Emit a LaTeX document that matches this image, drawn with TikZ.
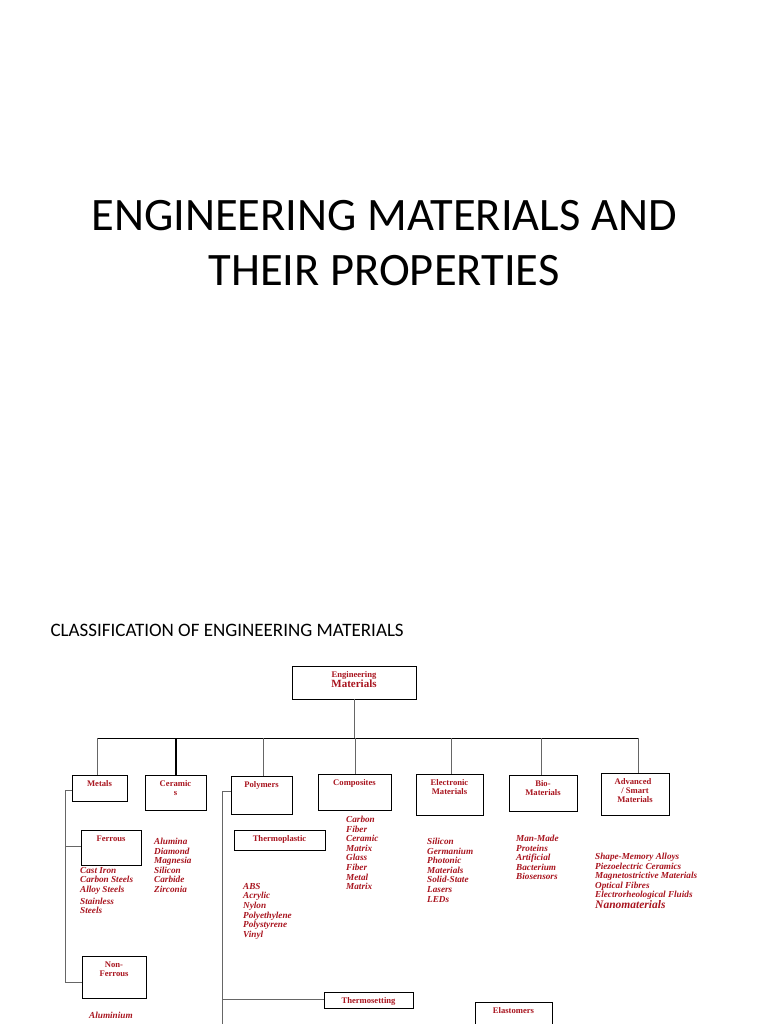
\documentclass[tikz,border=0pt]{standalone}
\usepackage{fontspec}
\setmainfont{Liberation Serif}
\newfontfamily\calfont{Carlito}
\definecolor{rd}{HTML}{A8141E}
\newcommand\bxx[6]{\draw[line width=0.8pt] (#2,#3) rectangle (#4,#5); \node[lbl,anchor=north] (#1) at ({(#2+#4)/2},#3+2) {#6};}
\begin{document}
\begin{tikzpicture}[x=1pt,y=-1pt,
 lbl/.style={text=rd,font=\bfseries\fontsize{8.6}{9}\selectfont,align=center},
 lst/.style={text=rd,font=\bfseries\itshape\fontsize{9.2}{9.6}\selectfont,align=left,anchor=north west,inner sep=0pt},
 ln/.style={draw=gray!80!black,line width=0.8pt}]
\useasboundingbox (0,0) rectangle (768,1024);
\clip (0,0) rectangle (768,1024);
\node[font=\calfont\fontsize{46.5}{48}\selectfont] (t1) at (384,216) {ENGINEERING MATERIALS AND};
\node[font=\calfont\fontsize{46.5}{48}\selectfont] (t2) at (384,271) {THEIR PROPERTIES};
\node[font=\calfont\fontsize{19}{20}\selectfont,anchor=west] (t3) at (47,630) {CLASSIFICATION OF ENGINEERING MATERIALS};
% boxes
\bxx{em}{292}{666}{416}{699}{Engineering\\[-1pt]{\fontsize{11}{11.5}\selectfont Materials}}
\bxx{me}{72}{775}{127}{801}{Metals}
\bxx{ce}{145}{775}{206}{810}{Ceramic\\s}
\bxx{po}{231}{776}{292}{814}{Polymers}
\bxx{co}{318}{774}{391}{810}{Composites}
\bxx{el}{416}{774}{483}{815}{Electronic\\Materials}
\bxx{bi}{509}{775}{577}{811}{Bio-\\Materials}
\bxx{ad}{601}{773}{669}{815}{\hspace*{-4pt}Advanced\\/ Smart\\Materials}
\bxx{fe}{81}{830}{141}{865}{Ferrous}
\bxx{nf}{82}{956}{146}{998}{Non-\\Ferrous}
\bxx{tp}{234}{830}{325}{850}{Thermoplastic}
\bxx{ts}{324}{992}{413}{1008}{Thermosetting}
\bxx{ea}{475}{1002}{552}{1030}{Elastomers}
% connectors
\coordinate (bl) at (97,738); \coordinate (br) at (638,738);
\draw[ln] (354,699) -- (354,738);
\draw[line width=0.8pt] (bl) -- (br);
\draw[ln] (97,738) -- (97,775);
\draw[line width=1.6pt] (176,738) -- (176,775);
\draw[ln] (263,738) -- (263,776);
\draw[ln] (355,738) -- (355,774);
\draw[ln] (451,738) -- (451,774);
\draw[ln] (541,738) -- (541,775);
\draw[ln] (638,738) -- (638,773);
\draw[ln] (72,790) -- (65,790) -- (65,982) -- (82,982);
\draw[ln] (65,846) -- (81,846);
\draw[ln] (231,791) -- (222,791) -- (222,1030);
\draw[ln] (222,999) -- (324,999);
% lists
\node[lst] (l1) at (80,867) {Cast Iron\\Carbon Steels\\Alloy Steels\\[2pt]Stainless\\Steels};
\node[lst] (l2) at (154,838) {Alumina\\Diamond\\Magnesia\\Silicon\\Carbide\\Zirconia};
\node[lst] (l3) at (243,883) {ABS\\Acrylic\\Nylon\\Polyethylene\\Polystyrene\\Vinyl};
\node[lst] (l4) at (346,816) {Carbon\\Fiber\\Ceramic\\Matrix\\Glass\\Fiber\\Metal\\Matrix};
\node[lst] (l5) at (427,838) {Silicon\\Germanium\\Photonic\\Materials\\Solid-State\\Lasers\\LEDs};
\node[lst] (l6) at (516,835) {Man-Made\\Proteins\\Artificial\\Bacterium\\Biosensors};
\node[lst] (l7) at (595,853) {Shape-Memory Alloys\\Piezoelectric Ceramics\\Magnetostrictive Materials\\Optical Fibres\\Electrorheological Fluids\\{\fontsize{11.5}{11.5}\selectfont Nanomaterials}};
\node[lst] (l8) at (89,1012) {Aluminium};
\end{tikzpicture}
\end{document}
